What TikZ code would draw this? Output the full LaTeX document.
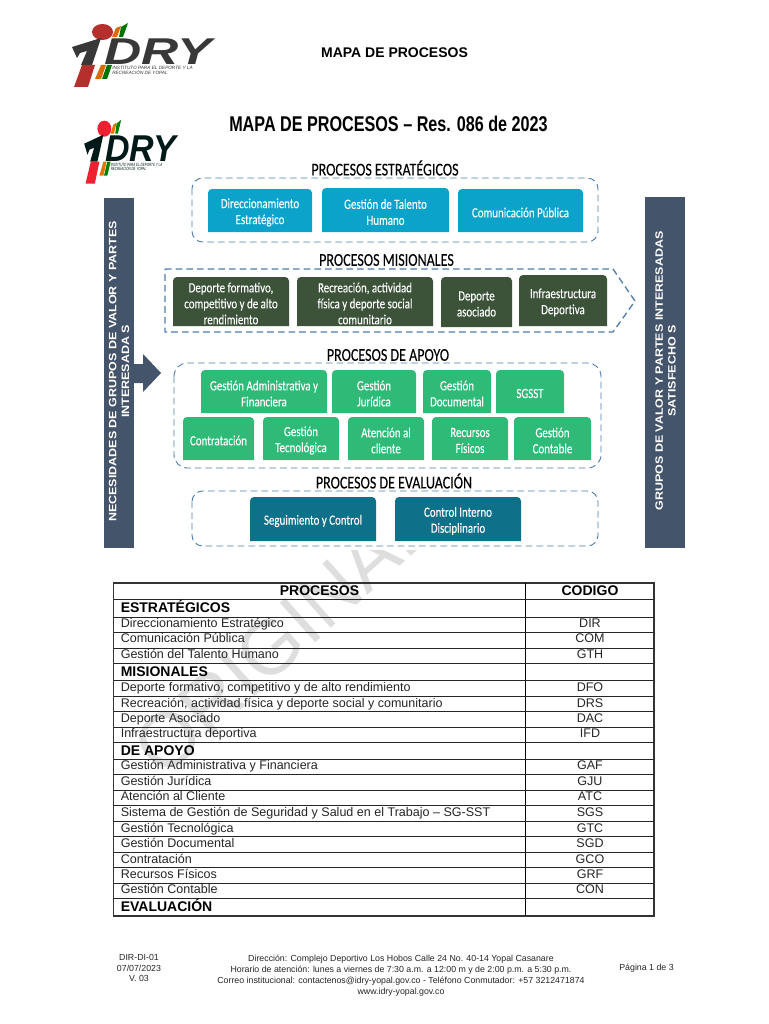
\documentclass[tikz,border=0pt]{standalone}
\usepackage{fontspec}
\setmainfont{Liberation Sans}
\newfontfamily\boxfont{Carlito}[FakeBold=0.08]
\definecolor{estratcol}{HTML}{0BA3C9}
\definecolor{misioncol}{HTML}{3C533A}
\definecolor{apoyocol}{HTML}{2FBA78}
\definecolor{evalcol}{HTML}{0F7189}
\definecolor{barcol}{HTML}{44546A}
\definecolor{framecol}{HTML}{4F7FAE}
\definecolor{rulecol}{HTML}{333333}
\definecolor{markcol}{HTML}{DEDEDE}
\tikzset{
  frameline/.style={draw=framecol,line width=0.7pt,dash pattern=on 5pt off 3pt},
  boxtext/.style={text=white,align=center,font=\boxfont\fontsize{10.5}{12}\selectfont,xscale=0.78},
  heading/.style={font=\boxfont\fontsize{13.5}{14}\selectfont,xscale=0.78},
  bartext/.style={text=white,align=center,rotate=90,xscale=1.17,font=\bfseries\fontsize{8}{9.6}\selectfont},
  cellname/.style={anchor=west,text=black!85,text height=8pt,text depth=1.5pt,font=\fontsize{9.4}{10}\selectfont},
  cellhead/.style={anchor=west,text height=9pt,text depth=0.5pt,font=\bfseries\fontsize{10.5}{11}\selectfont},
  cellcode/.style={text=black!85,text height=8pt,text depth=1.5pt,font=\fontsize{9.4}{10}\selectfont},
  foot/.style={align=center,text=black!85,font=\fontsize{6.6}{8.2}\selectfont}
}
% box with round top corners and its label
\newcommand{\procbox}[7]{
  \fill[#6] (#2,#5) [rounded corners=3pt] -- (#2,#3) -- (#4,#3) [sharp corners] -- (#4,#5) -- cycle;
  \node[boxtext] (#1) at ({(#2+#4)/2},{(#3+#5)/2+2}) {#7};
}
% logo, local units are the pixels of the upper one
\newcommand{\logo}[5]{
  \begin{scope}[shift={(#2,#3)},xscale=#4]
    \fill[logored] (42.5,22) ellipse (10.5 and 8);
    \fill[logoorange] (52,27) -- (56,18) -- (61,16) -- (57,27) -- cycle;
    \fill[logogreen] (59,27) -- (61,17) -- (68,13) -- (63,27) -- cycle;
    \fill[logodark] (12,37) -- (41,28) -- (32,55) -- (21,55) -- (27,41) -- (20,43) -- (17,48) -- cycle;
    \fill[logored] (14,77) -- (22,55) -- (35,55) -- (28,77) -- cycle;
    \fill[logoorange] (35,69) -- (41,55) -- (46,55) -- (41,69) -- cycle;
    \fill[logogreen] (42,69) -- (47,55) -- (52,55) -- (47,69) -- cycle;
    \node[transform shape,text=logodark,xscale=1.38,inner sep=0pt,font=\bfseries\itshape\fontsize{28}{28}\selectfont] (#1word) at (98,42) {DRY};
    \node[transform shape,text=logodark,anchor=north west,inner sep=0pt,align=left,font=\itshape\fontsize{#5}{#5}\selectfont] (#1sub) at (52,56) {INSTITUTO PARA EL DEPORTE Y LA\\RECREACI\'ON DE YOPAL};
  \end{scope}
}
\begin{document}
\begin{tikzpicture}[x=0.75pt,y=-0.75pt]
\useasboundingbox (0,0) rectangle (768,1024);
\fill[white] (0,0) rectangle (768,1024);

% watermark
\node[text=markcol,rotate=42,inner sep=0pt,font=\fontsize{58}{58}\selectfont] (sello) at (283,636) {ORIGINAL};
\fill[white] (70,95) rectangle (700,550);

% header
\definecolor{logored}{HTML}{B5302C}
\colorlet{logoorange}{orange!85!black}
\colorlet{logogreen}{green!45!black}
\colorlet{logodark}{black!78}
\logo{top}{60}{10}{1}{3.5}
\node[font=\bfseries\fontsize{10.5}{12}\selectfont] (cabecera) at (394.5,53) {MAPA DE PROCESOS};

\definecolor{logored}{HTML}{F02030}
\colorlet{logoorange}{orange!90!black}
\colorlet{logogreen}{green!50!black}
\colorlet{logodark}{black!80!teal}
\logo{dos}{76.3}{106.7}{0.66}{3.4}
\node[font=\bfseries\fontsize{16}{18}\selectfont,xscale=0.758] (titulo) at (388.5,124) {MAPA DE PROCESOS -- Res. 086 de 2023};

% side bars
\fill[barcol] (104,198) rectangle (134,548);
\fill[barcol] (645,197) rectangle (685,548);
\fill[barcol] (134,364) -- (143,364) -- (143,354) -- (161,373) -- (143,392) -- (143,383) -- (134,383) -- cycle;
\node[bartext] (necesidades) at (119,371.5) {NECESIDADES DE GRUPOS DE VALOR Y PARTES\\INTERESADA S};
\node[bartext] (grupos) at (665.5,371) {GRUPOS DE VALOR Y PARTES INTERESADAS\\SATISFECHO S};

% estrategicos
\node[heading] (headestrat) at (385,168) {PROCESOS ESTRAT\'EGICOS};
\draw[frameline,rounded corners=8pt] (192,178) rectangle (598,242);
\procbox{dir}{208}{189}{312}{232}{estratcol}{Direccionamiento\\Estrat\'egico}
\procbox{gth}{322}{188}{449}{232}{estratcol}{Gesti\'on de Talento\\Humano}
\procbox{com}{458}{189}{583}{232}{estratcol}{Comunicaci\'on P\'ublica}

% misionales
\node[heading] (headmision) at (386.5,260) {PROCESOS MISIONALES};
\draw[frameline,line width=1pt] (165,269) -- (613,269) -- (635,301) -- (613,332) -- (165,332) -- cycle;
\procbox{dfo}{173}{277}{289}{326}{misioncol}{Deporte formativo,\\competitivo y de alto\\rendimiento}
\procbox{drs}{297}{277}{433}{326}{misioncol}{Recreaci\'on, actividad\\f\'isica y deporte social\\comunitario}
\procbox{dac}{441}{277}{512}{327}{misioncol}{Deporte\\asociado}
\procbox{ifd}{519}{275}{607}{326}{misioncol}{Infraestructura\\Deportiva}

% apoyo
\node[heading] (headapoyo) at (388,355) {PROCESOS DE APOYO};
\draw[frameline,rounded corners=10pt] (174,363) rectangle (601,468);
\procbox{gaf}{201}{370}{327}{413}{apoyocol}{Gesti\'on Administrativa y\\Financiera}
\procbox{gju}{332}{370}{416}{413}{apoyocol}{Gesti\'on\\Jur\'idica}
\procbox{sgd}{423}{370}{491}{413}{apoyocol}{Gesti\'on\\Documental}
\procbox{sgs}{496}{370}{564}{413}{apoyocol}{SGSST}
\procbox{gco}{183}{417}{254}{460}{apoyocol}{Contrataci\'on}
\procbox{gtc}{263}{417}{339}{460}{apoyocol}{Gesti\'on\\Tecnol\'ogica}
\procbox{atc}{348}{417}{424}{460}{apoyocol}{Atenci\'on al\\cliente}
\procbox{grf}{432}{417}{508}{460}{apoyocol}{Recursos\\F\'isicos}
\procbox{con}{514}{417}{591}{460}{apoyocol}{Gesti\'on\\Contable}

% evaluacion
\node[heading] (headeval) at (394,481) {PROCESOS DE EVALUACI\'ON};
\draw[frameline,rounded corners=8pt] (192,491) rectangle (598,546);
\procbox{seg}{250}{497}{376}{541}{evalcol}{Seguimiento y Control}
\procbox{cid}{395}{497}{521}{541}{evalcol}{Control Interno\\Disciplinario}

% table
\draw[rulecol,line width=0.8pt] (113.5,583) rectangle (654,916);
\draw[black,line width=0.7pt] (525.5,583) -- (525.5,916);
\foreach \y in {599,617,632.5,648,663,680,696,711,727,742,759,774,790,805,821,836,852,867,883,898}
  \draw[black!85,line width=0.7pt] (113.5,\y) -- (654,\y);
\node[font=\bfseries\fontsize{10.5}{11}\selectfont] (procesos) at (319.5,590.5) {PROCESOS};
\node[font=\bfseries\fontsize{10.5}{11}\selectfont] (codigo) at (590,590.5) {CODIGO};
\foreach \y/\t in {607/ESTRAT\'EGICOS,670.5/MISIONALES,749.5/DE APOYO,906/EVALUACI\'ON}
  \node[cellhead,inner sep=0pt] (head\y) at (120.5,\y) {\t};
\foreach \y/\t/\c in {
  623/Direccionamiento Estrat\'egico/DIR,
  638.5/Comunicaci\'on P\'ublica/COM,
  654/Gesti\'on del Talento Humano/GTH,
  687.5/Deporte formativo{,} competitivo y de alto rendimiento/DFO,
  703/Recreaci\'on{,} actividad f\'isica y deporte social y comunitario/DRS,
  718.5/Deporte Asociado/DAC,
  733.5/Infraestructura deportiva/IFD,
  765.5/Gesti\'on Administrativa y Financiera/GAF,
  781/Gesti\'on Jur\'idica/GJU,
  796.5/Atenci\'on al Cliente/ATC,
  812.5/Sistema de Gesti\'on de Seguridad y Salud en el Trabajo -- SG-SST/SGS,
  828/Gesti\'on Tecnol\'ogica/GTC,
  843.5/Gesti\'on Documental/SGD,
  859/Contrataci\'on/GCO,
  874.5/Recursos F\'isicos/GRF,
  889.5/Gesti\'on Contable/CON}{
  \node[cellname,inner sep=0pt] (name\c) at (120.5,\y) {\t};
  \node[cellcode,inner sep=0pt] (code\c) at (590,\y) {\c};
}

% footer
\node[foot] (piecod) at (139,968) {DIR-DI-01\\07/07/2023\\V. 03};
\node[foot] (piedir) at (401,975.5) {Direcci\'on: Complejo Deportivo Los Hobos Calle 24 No. 40-14 Yopal Casanare\\Horario de atenci\'on: lunes a viernes de 7:30 a.m. a 12:00 m y de 2:00 p.m. a 5:30 p.m.\\Correo institucional: contactenos@idry-yopal.gov.co - Tel\'efono Conmutador: +57 3212471874\\www.idry-yopal.gov.co};
\node[foot] (piepag) at (646.5,968) {P\'agina 1 de 3};
\end{tikzpicture}
\end{document}
